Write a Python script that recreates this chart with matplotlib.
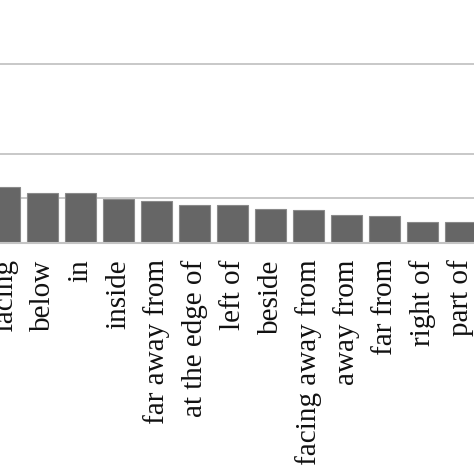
import matplotlib
matplotlib.use("Agg")
import matplotlib.pyplot as plt

categories = ["facing", "below", "in", "inside", "far away from", "at the edge of",
              "left of", "beside", "facing away from", "away from", "far from",
              "right of", "part of"]
values = [1.24, 1.12, 1.105, 0.97, 0.94, 0.85, 0.85, 0.76, 0.73, 0.63, 0.595, 0.47, 0.465]
grid_values = [1, 2, 4]

W = H = 474
fig = plt.figure(figsize=(W / 100, H / 100), dpi=100)
base_px = 242.7
ax = fig.add_axes([0, 1 - base_px / H, 1, base_px / H])
unit_px = 44.6
ax.set_ylim(0, base_px / unit_px)
x = list(range(len(categories)))
ax.set_xlim(-4.5 / 38, (W - 4.5) / 38)

for g in grid_values:
    ax.axhline(g, color="#c4c4c4", lw=1.3, zorder=0)

ax.bar(x, values, width=0.83, color="#666666", edgecolor="#8a8a8a", linewidth=0.8, zorder=2)
ax.axhline(0, color="#c4c4c4", lw=1.5, zorder=3, clip_on=False)

for s in ax.spines.values():
    s.set_visible(False)
ax.set_yticks([])
ax.set_xticks(x)
ax.set_xticklabels(categories, rotation=90, fontfamily="Liberation Serif",
                   fontsize=21, color="#111111")
ax.tick_params(axis="x", length=0, pad=12)

fig.savefig("out.png", dpi=100)
